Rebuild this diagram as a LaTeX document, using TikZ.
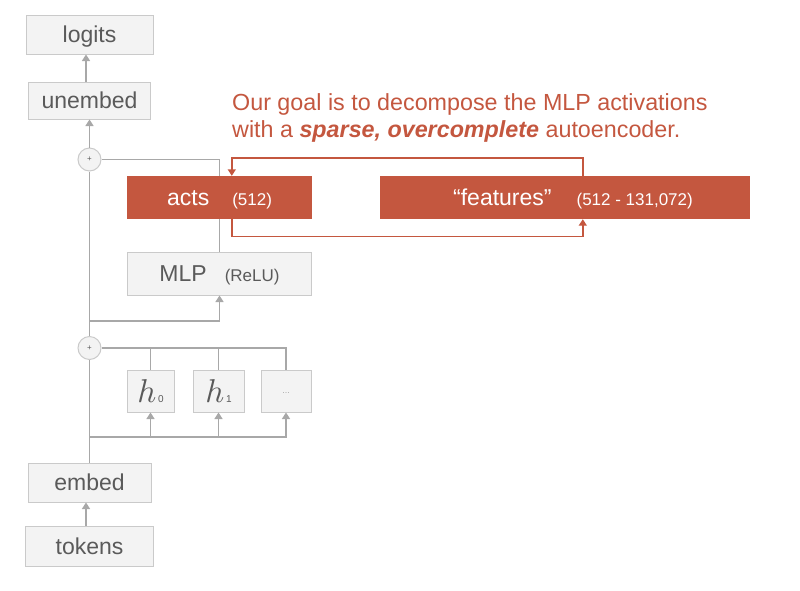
\documentclass[tikz,border=0pt]{standalone}
\usepackage{fontspec}
\setmainfont{Liberation Sans}
\usetikzlibrary{arrows.meta,calc}
\definecolor{rood}{HTML}{C4573F}
\definecolor{lijngrijs}{HTML}{A8A8A8}
\definecolor{vulling}{HTML}{F3F3F3}
\definecolor{rand}{HTML}{CACACA}
\definecolor{tekstgrijs}{HTML}{5A5A5A}
\newcommand{\groot}{\fontsize{23}{23}\selectfont}
\newcommand{\klein}{\fontsize{17}{17}\selectfont}
\newcommand{\kop}[1]{{\fontsize{10}{10}\selectfont\scalebox{3.3}{$h$}\,#1}}
\begin{document}
\begin{tikzpicture}[x=1pt,y=-1pt,
    blok/.style={draw=rand,line width=1pt,fill=vulling,text=tekstgrijs,font=\groot,inner sep=0pt,text height=16pt,text depth=0pt},
    roodblok/.style={fill=rood,text=white,font=\groot,inner sep=0pt,text height=15pt,text depth=0pt},
    som/.style={circle,draw=rand,line width=1pt,fill=vulling,text=tekstgrijs,minimum size=23,inner sep=0pt,font=\fontsize{8}{8}\selectfont},
    lijn/.style={draw=lijngrijs,line width=1.6pt},
    pijl/.style={lijn,-{Triangle[width=8pt,length=6.5pt]}},
    rodepijl/.style={draw=rood,line width=1.4pt,-{Triangle[width=8pt,length=6.5pt]}}]
    \useasboundingbox (0,0) rectangle (800,590);
    % hoofdkolom
    \node[blok,minimum width=127,minimum height=39] (logits) at (89.5,34.5) {logits};
    \node[blok,minimum width=122,minimum height=37] (unembed) at (89.5,100.5) {unembed};
    \node[som] (sumtop) at (89.5,159.5) {+};
    \node[som] (sumbot) at (89.5,348) {+};
    \node[blok,minimum width=123,minimum height=39] (embed) at (89.5,482.5) {embed};
    \node[blok,minimum width=128,minimum height=40] (tokens) at (89.5,546) {tokens};
    % MLP en aandachtskoppen
    \node[roodblok,minimum width=185,minimum height=43] (acts) at (219.5,197.5) {acts\hspace{23pt}{\klein(512)}};
    \node[roodblok,minimum width=370,minimum height=43] (features) at (565,197.5) {\hspace{16pt}“features”\hspace{25pt}{\klein(512 - 131,072)}};
    \node[blok,minimum width=184,minimum height=43] (mlp) at (219.5,273.5) {MLP\hspace{18pt}{\klein(ReLU)}};
    \node[blok,minimum width=47,minimum height=42,text height=22pt] (h0) at (150.5,391) {\kop{0}};
    \node[blok,minimum width=51,minimum height=42,text height=22pt] (h1) at (218.5,391) {\kop{1}};
    \node[blok,minimum width=50,minimum height=42,font=\fontsize{9}{9}\selectfont,text=lijngrijs,text height=4pt] (dots) at (286,391) {...};
    \node[anchor=north west,align=left,text=rood,font=\fontsize{23.3}{27}\selectfont,inner sep=0pt] (doel) at (232,93)
        {Our goal is to decompose the MLP activations\\with a \textbf{\textit{sparse, overcomplete}} autoencoder.};
    % verbindingen
    \coordinate (split) at (89.5,437);
    \coordinate (split2) at (89.5,321);
    \draw[pijl] ([xshift=-3.5]tokens.north) -- ([xshift=-3.5]embed.south);
    \draw[lijn] (embed) -- (sumbot) -- (sumtop);
    \draw[pijl] (sumtop) -- (unembed);
    \draw[pijl] ([xshift=-3.5]unembed.north) -- ([xshift=-3.5]logits.south);
    \draw[pijl] (split) -| (dots);
    \foreach \k in {h0,h1}
        \draw[pijl] (\k |- split) -- (\k);
    \draw[lijn] (sumbot) -| (dots);
    \foreach \k in {h0,h1}
        \draw[lijn] (\k) -- (\k |- sumbot);
    \draw[pijl] (split2) -| (mlp);
    \draw[lijn] (mlp) -- (acts);
    \draw[lijn] (acts) |- (sumtop);
    % autoencoder
    \draw[rodepijl] ([xshift=105]acts.south west) -- ++(0,17) -| ([xshift=203]features.south west);
    \draw[rodepijl] ([xshift=203]features.north west) -- ++(0,-18) -| ([xshift=105]acts.north west);
\end{tikzpicture}
\end{document}
